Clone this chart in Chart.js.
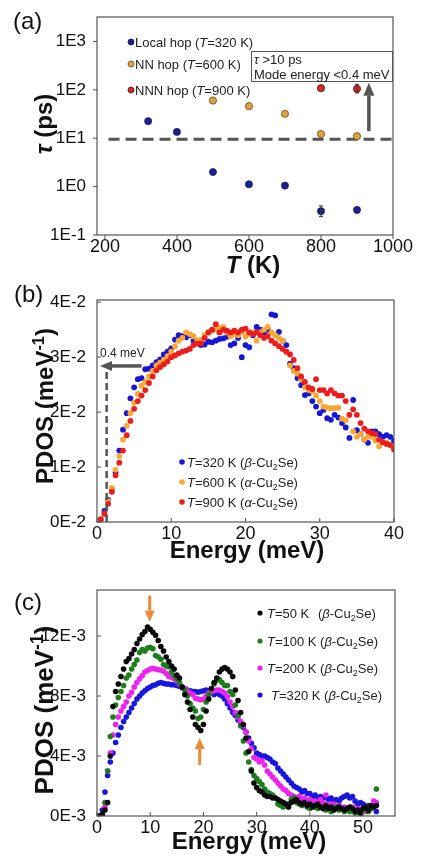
<!DOCTYPE html>
<html>
<head>
<meta charset="utf-8">
<script src="https://cdn.jsdelivr.net/npm/chart.js@4.4.1/dist/chart.umd.min.js"></script>
<style>
  body { margin: 0; background: #fff; width: 421px; height: 865px; overflow: hidden; position: relative; }
  canvas { position: absolute; left: 0; }
</style>
</head>
<body>
<canvas id="chartA" width="421" height="285" style="top:0"></canvas>
<canvas id="chartB" width="421" height="285" style="top:285px"></canvas>
<canvas id="chartC" width="421" height="295" style="top:570px"></canvas>
<script>
// ---------- panel (a): relaxation time vs T ----------
const localT = [320, 400, 500, 600, 700, 800, 900];
const localTau = [22.5, 13.5, 2.0, 1.12, 1.05, 0.31, 0.33];
const nnT = [500, 600, 700, 800, 900];
const nnTau = [60, 46, 32, 12.2, 11];
const nnnT = [800, 900];
const nnnTau = [108, 105];
// error bars: [T, low, high]
const localErr = [[800, 0.24, 0.40]];
const nnnErr = [[900, 86, 130]];
const thresholdT = [210, 1000];
const thresholdTau = [9.5, 9.5];
const arrowAT = 933;
const arrowATau = [14, 140];
const aTicksX = [200, 400, 600, 800, 1000];
const aTicksY = [0.1, 1, 10, 100, 1000];

// ---------- panel (b): PDOS at 320/600/900 K (units of 1E-2 meV^-1) ----------
const energyB = [0.5,1,1.5,2,2.5,3,3.5,4,4.5,5,5.5,6,6.5,7,7.5,8,8.5,9,9.5,10,
  10.5,11,11.5,12,12.5,13,13.5,14,14.5,15,15.5,16,16.5,17,17.5,18,18.5,19,19.5,20,
  20.5,21,21.5,22,22.5,23,23.5,24,24.5,25,25.5,26,26.5,27,27.5,28,28.5,29,29.5,30,
  30.5,31,31.5,32,32.5,33,33.5,34,34.5,35,35.5,36,36.5,37,37.5,38,38.5,39,39.5,40];
const pdosB320 = [0.04,0.2,0.4,0.6,0.9,1.3,1.68,1.98,2.25,2.45,
  2.6,2.62,2.78,2.79,2.85,2.91,2.96,3.05,3.1,3.16,
  3.32,3.4,3.38,3.36,3.4,3.3,3.25,3.22,3.23,3.28,
  3.27,3.3,3.33,3.34,3.37,3.22,3.25,3.35,3.0,3.22,
  3.18,3.4,3.55,3.5,3.45,3.5,3.78,3.76,3.46,3.3,
  3.22,2.88,2.8,2.62,2.49,2.31,2.34,2.2,2.1,1.98,
  2.04,1.89,1.86,1.95,1.9,1.8,1.72,1.53,2.22,1.67,
  1.6,1.5,1.44,1.65,1.65,1.6,1.55,1.58,1.55,1.48];
const pdosB600 = [0.04,0.15,0.38,0.62,0.95,1.2,1.5,1.75,1.98,2.17,
  2.33,2.48,2.55,2.65,2.75,2.85,2.9,2.95,3.02,3.1,
  3.2,3.3,3.35,3.45,3.42,3.38,3.3,3.32,3.4,3.45,
  3.48,3.5,3.53,3.55,3.45,3.38,3.42,3.4,3.46,3.38,
  3.42,3.45,3.3,3.45,3.5,3.55,3.45,3.4,3.35,3.3,
  3.1,2.85,2.75,2.7,2.6,2.45,2.4,2.38,2.3,2.2,
  2.1,2.08,2.07,2.07,2.08,1.88,1.85,1.95,1.65,1.55,
  1.6,1.5,1.55,1.55,1.48,1.38,1.45,1.45,1.4,1.35];
const pdosB900 = [0.05,0.15,0.33,0.55,0.85,1.08,1.3,1.58,1.84,2.06,
  2.2,2.3,2.4,2.53,2.65,2.76,2.82,2.87,2.92,3.0,
  3.03,3.07,3.1,3.12,3.15,3.22,3.25,3.25,3.35,3.45,
  3.5,3.6,3.45,3.5,3.48,3.45,3.48,3.45,3.5,3.52,
  3.45,3.42,3.45,3.4,3.35,3.38,3.3,3.25,3.2,3.15,
  3.1,3.05,2.95,2.8,2.65,2.55,2.45,2.42,2.6,2.4,
  2.4,2.34,2.4,2.34,2.3,2.3,2.2,1.95,2.05,1.95,
  1.8,1.7,1.65,1.62,1.6,1.5,1.45,1.42,1.4,1.32];
const cutoffE = 1.3;
const cutoffTop = 2.73;
const arrowBE = [6.0, 0.4];
const arrowBV = 2.84;
const bTicksX = [0, 10, 20, 30, 40];
const bTicksY = [0, 1, 2, 3, 4];

// ---------- panel (c): PDOS at 50/100/200/320 K (units of 1E-3 meV^-1) ----------
const energyC = [0.5,1,1.5,2,2.5,3,3.5,4,4.5,5,5.5,6,6.5,7,7.5,8,8.5,9,9.5,10,
  10.5,11,11.5,12,12.5,13,13.5,14,14.5,15,15.5,16,16.5,17,17.5,18,18.5,19,19.5,20,
  20.5,21,21.5,22,22.5,23,23.5,24,24.5,25,25.5,26,26.5,27,27.5,28,28.5,29,29.5,30,
  30.5,31,31.5,32,32.5,33,33.5,34,34.5,35,35.5,36,36.5,37,37.5,38,38.5,39,39.5,40,
  40.5,41,41.5,42,42.5,43,43.5,44,44.5,45,45.5,46,46.5,47,47.5,48,48.5,49,49.5,50,
  50.5,51,51.5,52,52.5];
const pdosC50 = [0.0,0.1,0.4,0.9,4.0,7.3,8.3,8.8,9.3,9.8,
  10.3,10.5,10.8,11.1,11.5,11.8,12.1,12.3,12.6,12.45,
  12.25,12.05,11.7,11.3,11.0,10.6,10.3,10.0,9.8,9.4,
  9.2,8.6,8.1,7.6,7.1,6.6,6.1,5.9,5.7,6.1,
  7.0,7.8,8.5,8.9,9.2,9.6,9.8,9.9,9.8,9.6,
  9.3,8.4,7.7,6.9,6.1,5.2,4.3,3.0,2.2,1.9,
  1.7,1.6,1.4,1.3,1.3,1.2,1.2,1.1,1.0,0.9,
  0.8,0.6,0.9,1.0,1.1,0.9,0.8,0.9,0.7,0.8,
  0.6,0.7,0.8,0.6,0.5,0.7,0.5,0.6,0.4,0.5,
  0.6,0.5,0.4,0.5,0.6,0.5,0.3,0.4,0.2,0.5,
  0.6,0.4,0.7,0.6,0.7];
const pdosC100 = [0.0,0.1,0.9,3.0,5.3,6.6,7.4,7.9,8.3,8.7,
  9.2,9.4,9.8,10.1,10.4,10.9,11.1,11.0,11.2,11.25,
  11.15,10.7,10.6,10.45,10.1,10.0,9.95,9.6,9.35,9.15,
  8.9,8.6,8.4,8.0,7.5,7.2,7.0,6.5,6.6,7.1,
  7.6,8.1,8.5,8.8,9.05,9.1,8.9,8.7,8.7,8.3,
  8.1,7.4,6.7,6.0,5.0,4.2,3.6,3.1,2.7,2.5,
  2.3,2.1,1.8,1.6,1.5,1.4,1.2,0.8,0.7,0.6,
  0.7,0.8,1.1,1.2,0.9,0.8,0.7,0.8,0.6,0.5,
  0.7,0.6,0.5,0.6,0.5,0.4,0.6,0.3,0.5,0.6,
  0.4,0.5,0.3,0.4,0.3,0.4,0.2,0.3,0.1,0.4,
  0.5,0.3,0.5,0.6,1.8];
const pdosC200 = [0.0,0.1,0.6,3.0,4.2,5.4,6.1,6.6,7.0,7.3,
  7.6,8.0,8.25,8.6,8.9,9.15,9.35,9.6,9.7,9.8,
  9.85,9.8,9.75,9.73,9.65,9.5,9.3,9.25,9.15,9.0,
  8.8,8.6,8.5,8.35,8.2,8.1,7.85,7.8,7.75,7.8,
  8.0,8.2,8.3,8.35,8.4,8.4,8.3,8.2,7.95,7.6,
  7.3,6.9,6.6,6.3,6.0,5.6,5.0,4.5,3.9,3.8,
  3.6,3.7,3.4,3.0,2.8,2.6,2.4,2.2,2.0,1.8,
  1.7,1.5,1.4,1.3,1.2,1.3,1.1,1.2,1.0,1.1,
  0.9,1.0,0.8,1.1,0.9,1.4,0.8,0.7,0.8,0.6,
  0.7,0.5,0.6,0.4,0.5,0.6,0.3,0.5,0.4,0.5,
  0.3,0.6,0.5,1.0,0.9];
const pdosC320 = [0.0,0.4,1.6,2.7,3.6,4.2,4.9,5.4,5.9,6.3,
  6.6,6.9,7.2,7.5,7.8,8.0,8.2,8.35,8.5,8.6,
  8.7,8.75,8.85,8.9,8.85,8.8,8.8,8.75,8.75,8.7,
  8.65,8.55,8.5,8.4,8.35,8.3,8.3,8.25,8.3,8.35,
  8.4,8.35,8.4,8.1,8.2,8.1,8.0,7.8,7.5,7.2,
  6.9,6.7,6.4,6.15,5.9,5.6,5.2,4.85,4.55,4.2,
  4.1,4.0,4.0,3.9,3.8,3.6,3.5,3.2,3.0,2.8,
  2.6,2.4,2.2,2.0,1.9,1.8,1.6,1.7,1.5,1.5,
  1.3,1.4,1.2,1.3,1.2,1.3,1.1,1.2,1.0,1.1,
  1.0,1.2,1.3,1.4,1.2,1.3,1.0,0.8,0.9,0.8,
  0.6,0.7,0.5,0.6,0.3];
const peakArrowE = 9.9;
const peakArrowV = [14.7, 12.95];
const dipArrowE = 19.3;
const dipArrowV = [3.4, 5.2];
const cTicksX = [0, 10, 20, 30, 40, 50];
const cTicksY = [0, 4, 8, 12];

const FONT = "'Liberation Sans', Arial, sans-serif";
Chart.defaults.font.family = FONT;
Chart.defaults.color = '#111';

function pts(xs, ys) {
  return xs.map((x, i) => ({ x: x, y: ys[i] }));
}

// draws text made of styled parts, returns width
function rich(ctx, x, y, parts, size, bold, measureOnly) {
  let cx = x;
  parts.forEach(p => {
    const small = p.sub || p.sup;
    const s = small ? size * 0.68 : size;
    ctx.font = (p.i ? 'italic ' : '') + (bold ? 'bold ' : '') + s + 'px ' + FONT;
    const dy = p.sub ? size * 0.22 : p.sup ? -size * 0.38 : 0;
    if (!measureOnly) ctx.fillText(p.t, cx, y + dy);
    cx += ctx.measureText(p.t).width;
  });
  return cx - x;
}

function richCentered(ctx, cx, y, parts, size, bold) {
  const w = rich(ctx, 0, 0, parts, size, bold, true);
  rich(ctx, cx - w / 2, y, parts, size, bold);
}

function richVertical(ctx, x, cy, parts, size, bold) {
  ctx.save();
  ctx.translate(x, cy);
  ctx.rotate(-Math.PI / 2);
  const w = rich(ctx, 0, 0, parts, size, bold, true);
  rich(ctx, -w / 2, 0, parts, size, bold);
  ctx.restore();
}

function arrow(ctx, x1, y1, x2, y2, color, width, headLen, headW) {
  const ang = Math.atan2(y2 - y1, x2 - x1);
  const bx = x2 - headLen * Math.cos(ang), by = y2 - headLen * Math.sin(ang);
  ctx.save();
  ctx.strokeStyle = color;
  ctx.fillStyle = color;
  ctx.lineWidth = width;
  ctx.beginPath();
  ctx.moveTo(x1, y1);
  ctx.lineTo(bx, by);
  ctx.stroke();
  ctx.beginPath();
  ctx.moveTo(x2, y2);
  ctx.lineTo(bx + headW / 2 * Math.sin(ang), by - headW / 2 * Math.cos(ang));
  ctx.lineTo(bx - headW / 2 * Math.sin(ang), by + headW / 2 * Math.cos(ang));
  ctx.closePath();
  ctx.fill();
  ctx.restore();
}

function dot(ctx, x, y, r, fill, stroke) {
  ctx.beginPath();
  ctx.arc(x, y, r, 0, Math.PI * 2);
  ctx.fillStyle = fill;
  ctx.fill();
  if (stroke) { ctx.strokeStyle = stroke; ctx.lineWidth = 0.8; ctx.stroke(); }
}

// plot frame + tick marks (inward or outward)
function framePlugin(xIn, yIn) {
  return {
    id: 'frame',
    afterDraw(chart) {
      const { ctx, chartArea: a, scales } = chart;
      ctx.save();
      ctx.strokeStyle = '#555';
      ctx.lineWidth = 1.2;
      ctx.strokeRect(a.left, a.top, a.right - a.left, a.bottom - a.top);
      ctx.lineWidth = 1;
      ctx.beginPath();
      scales.x.ticks.forEach(t => {
        const px = scales.x.getPixelForValue(t.value);
        ctx.moveTo(px, a.bottom);
        ctx.lineTo(px, a.bottom + (xIn ? -4 : 4));
      });
      scales.y.ticks.forEach(t => {
        const py = scales.y.getPixelForValue(t.value);
        ctx.moveTo(a.left, py);
        ctx.lineTo(a.left + (yIn ? 4 : -4), py);
      });
      ctx.stroke();
      ctx.restore();
    }
  };
}

function axisX(min, max, tickVals, height) {
  return {
    type: 'linear', min: min, max: max,
    afterBuildTicks: s => { s.ticks = tickVals.map(v => ({ value: v })); },
    afterFit: s => { s.height = height; },
    grid: { display: false },
    border: { display: false },
    ticks: { font: { size: 18 }, color: '#111', padding: -7, maxRotation: 0, autoSkip: false,
      callback: v => String(v) }
  };
}

function axisY(min, max, tickVals, fmt) {
  return {
    type: 'linear', min: min, max: max,
    afterBuildTicks: s => { s.ticks = tickVals.map(v => ({ value: v })); },
    afterFit: s => { s.width = 97; },
    grid: { display: false },
    border: { display: false },
    ticks: { font: { size: 17 }, color: '#111', padding: 3, autoSkip: false, callback: fmt }
  };
}

const baseOptions = (padTop, padRight) => ({
  responsive: false,
  animation: false,
  devicePixelRatio: 1,
  layout: { padding: { top: padTop, right: padRight, left: 0, bottom: 0 } },
  plugins: { legend: { display: false }, tooltip: { enabled: false } }
});

// ================= chart (a) =================
const optsA = baseOptions(17, 28);
optsA.scales = {
  x: axisX(178, 1000, aTicksX, 50),
  y: Object.assign(axisY(0.1, 3200, aTicksY, v => '1E' + Math.round(Math.log10(v))), { type: 'logarithmic' })
};

new Chart(document.getElementById('chartA'), {
  type: 'scatter',
  data: {
    datasets: [
      { data: pts(nnnT, nnnTau), pointRadius: 3.6, pointBackgroundColor: '#d12a2a', pointBorderColor: '#5a1212', pointBorderWidth: 0.8, order: 0 },
      { data: pts(nnT, nnTau), pointRadius: 3.6, pointBackgroundColor: '#dfa23e', pointBorderColor: '#6b4818', pointBorderWidth: 0.8, order: 1 },
      { data: pts(localT, localTau), pointRadius: 3.6, pointBackgroundColor: '#1c1f8c', pointBorderColor: '#10124d', pointBorderWidth: 0.6, order: 2 },
      { data: pts(thresholdT, thresholdTau), showLine: true, pointRadius: 0, borderColor: '#555', borderWidth: 3, borderDash: [11, 6], order: 3 }
    ]
  },
  options: optsA,
  plugins: [framePlugin(false, false), {
    id: 'annotA',
    afterDraw(chart) {
      const { ctx, scales: { x, y } } = chart;
      ctx.save();
      // error bars
      ctx.strokeStyle = '#333';
      ctx.lineWidth = 1;
      localErr.concat(nnnErr).forEach(e => {
        const px = x.getPixelForValue(e[0]);
        const p1 = y.getPixelForValue(e[1]), p2 = y.getPixelForValue(e[2]);
        ctx.beginPath();
        ctx.moveTo(px, p1); ctx.lineTo(px, p2);
        ctx.moveTo(px - 2, p1); ctx.lineTo(px + 2, p1);
        ctx.moveTo(px - 2, p2); ctx.lineTo(px + 2, p2);
        ctx.stroke();
      });
      // arrow up
      arrow(ctx, x.getPixelForValue(arrowAT), y.getPixelForValue(arrowATau[0]),
        x.getPixelForValue(arrowAT), y.getPixelForValue(arrowATau[1]), '#555', 3.5, 13, 11);
      // text box
      ctx.fillStyle = '#fff';
      ctx.fillRect(251, 51, 141, 30);
      ctx.strokeStyle = '#555';
      ctx.lineWidth = 1;
      ctx.strokeRect(251.5, 51.5, 141, 30);
      ctx.fillStyle = '#222';
      rich(ctx, 254, 64, [{ t: 'τ', i: true }, { t: ' >10 ps' }], 13, false);
      rich(ctx, 254, 79, [{ t: 'Mode energy <0.4 meV' }], 13, false);
      // legend
      const leg = [
        [42, '#1c1f8c', '#10124d', 'Local hop (', '=320 K)'],
        [64, '#dfa23e', '#6b4818', 'NN hop (', '=600 K)'],
        [90, '#d12a2a', '#5a1212', 'NNN hop (', '=900 K)']
      ];
      leg.forEach(l => {
        dot(ctx, 131, l[0], 3, l[1], l[2]);
        ctx.fillStyle = '#222';
        rich(ctx, 135, l[0] + 5, [{ t: l[3] }, { t: 'T', i: true }, { t: l[4] }], 13, false);
      });
      // titles
      ctx.fillStyle = '#111';
      richCentered(ctx, 253, 273, [{ t: 'T', i: true }, { t: ' (K)' }], 24, true);
      richVertical(ctx, 52, 124, [{ t: 'τ', i: true }, { t: ' (ps)' }], 24, true);
      ctx.font = '24px ' + FONT;
      ctx.fillText('(a)', 13, 29);
      ctx.restore();
    }
  }]
});

// ================= chart (b) =================
const optsB = baseOptions(15, 27);
optsB.scales = {
  x: axisX(0, 40, bTicksX, 48),
  y: axisY(0, 4.04, bTicksY, v => v + 'E-2')
};

new Chart(document.getElementById('chartB'), {
  type: 'scatter',
  data: {
    datasets: [
      { data: pts(energyB, pdosB900), pointRadius: 2.9, pointBackgroundColor: '#ee1c1c', pointBorderWidth: 0, order: 0 },
      { data: pts(energyB, pdosB600), pointRadius: 2.9, pointBackgroundColor: '#fba832', pointBorderWidth: 0, order: 1 },
      { data: pts(energyB, pdosB320), pointRadius: 2.9, pointBackgroundColor: '#1616d8', pointBorderWidth: 0, order: 2 }
    ]
  },
  options: optsB,
  plugins: [framePlugin(true, true), {
    id: 'annotB',
    afterDraw(chart) {
      const { ctx, scales: { x, y } } = chart;
      ctx.save();
      // cutoff dashed line
      ctx.strokeStyle = '#555';
      ctx.lineWidth = 2.5;
      ctx.setLineDash([7, 4]);
      ctx.beginPath();
      ctx.moveTo(x.getPixelForValue(cutoffE), y.getPixelForValue(0));
      ctx.lineTo(x.getPixelForValue(cutoffE), y.getPixelForValue(cutoffTop));
      ctx.stroke();
      ctx.setLineDash([]);
      arrow(ctx, x.getPixelForValue(arrowBE[0]), y.getPixelForValue(arrowBV),
        x.getPixelForValue(arrowBE[1]), y.getPixelForValue(arrowBV), '#555', 3.5, 12, 10);
      ctx.fillStyle = '#222';
      ctx.font = '12px ' + FONT;
      ctx.fillText('0.4 meV', 100, 72);
      // legend
      const leg = [
        [177, '#1616d8', '=320 K (', 'β'],
        [197, '#fba832', '=600 K (', 'α'],
        [217, '#ee1c1c', '=900 K (', 'α']
      ];
      leg.forEach(l => {
        dot(ctx, 182, l[0], 2.8, l[1]);
        ctx.fillStyle = '#222';
        rich(ctx, 187, l[0] + 5, [{ t: 'T', i: true }, { t: l[2] }, { t: l[3], i: true },
          { t: '-Cu' }, { t: '2', sub: true }, { t: 'Se)' }], 13, false);
      });
      ctx.fillStyle = '#111';
      richCentered(ctx, 247, 273, [{ t: 'Energy (meV)' }], 24, true);
      richVertical(ctx, 53, 121, [{ t: 'PDOS (meV' }, { t: '-1', sup: true }, { t: ')' }], 24, true);
      ctx.font = '24px ' + FONT;
      ctx.fillText('(b)', 14, 17);
      ctx.restore();
    }
  }]
});

// ================= chart (c) =================
const optsC = baseOptions(20, 26);
optsC.scales = {
  x: axisX(0, 56, cTicksX, 49),
  y: axisY(0, 15.07, cTicksY, v => v + 'E-3')
};

new Chart(document.getElementById('chartC'), {
  type: 'scatter',
  data: {
    datasets: [
      { data: pts(energyC, pdosC50), pointRadius: 2.8, pointBackgroundColor: '#0a0a0a', pointBorderWidth: 0, order: 0 },
      { data: pts(energyC, pdosC100), pointRadius: 2.8, pointBackgroundColor: '#1e7e1e', pointBorderWidth: 0, order: 1 },
      { data: pts(energyC, pdosC200), pointRadius: 2.8, pointBackgroundColor: '#ee22ee', pointBorderWidth: 0, order: 2 },
      { data: pts(energyC, pdosC320), pointRadius: 2.8, pointBackgroundColor: '#1616e0', pointBorderWidth: 0, order: 3 }
    ]
  },
  options: optsC,
  plugins: [framePlugin(true, true), {
    id: 'annotC',
    afterDraw(chart) {
      const { ctx, scales: { x, y } } = chart;
      ctx.save();
      arrow(ctx, x.getPixelForValue(peakArrowE), y.getPixelForValue(peakArrowV[0]),
        x.getPixelForValue(peakArrowE), y.getPixelForValue(peakArrowV[1]), '#ee8a3a', 3, 11, 10);
      arrow(ctx, x.getPixelForValue(dipArrowE), y.getPixelForValue(dipArrowV[0]),
        x.getPixelForValue(dipArrowE), y.getPixelForValue(dipArrowV[1]), '#ee8a3a', 3, 11, 10);
      // legend
      const leg = [
        [43, '#0a0a0a', '=50 K', 267, 318],
        [71, '#1e7e1e', '=100 K ', 267, 0],
        [98, '#ee22ee', '=200 K ', 267, 0],
        [125, '#1616e0', '=320 K ', 271, 0]
      ];
      leg.forEach(l => {
        dot(ctx, 260, l[0], 2.6, l[1]);
        ctx.fillStyle = '#222';
        const tail = [{ t: '(' }, { t: 'β', i: true }, { t: '-Cu' }, { t: '2', sub: true }, { t: 'Se)' }];
        const w = rich(ctx, l[3], l[0] + 5, [{ t: 'T', i: true }, { t: l[2] }], 13, false);
        rich(ctx, l[4] || (l[3] + w), l[0] + 5, tail, 13, false);
      });
      ctx.fillStyle = '#111';
      richCentered(ctx, 249, 279, [{ t: 'Energy (meV)' }], 24, true);
      richVertical(ctx, 53, 140, [{ t: 'PDOS (meV' }, { t: '-1', sup: true }, { t: ')' }], 26, true);
      ctx.font = '24px ' + FONT;
      ctx.fillText('(c)', 14, 40);
      ctx.restore();
    }
  }]
});
</script>
</body>
</html>
